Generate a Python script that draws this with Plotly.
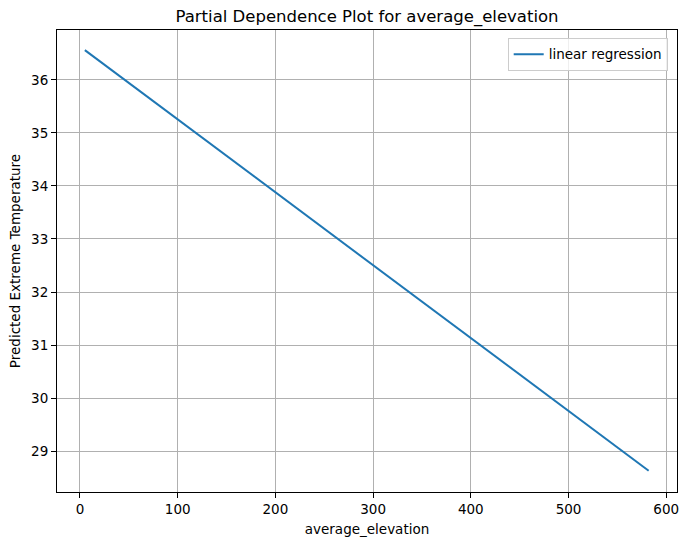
import plotly.graph_objects as go

elevation = [5, 582]
predicted_temp = [36.56, 28.63]
series_name = "linear regression"
x_ticks = [0, 100, 200, 300, 400, 500, 600]
y_ticks = [29, 30, 31, 32, 33, 34, 35, 36]

fig = go.Figure()
fig.add_trace(go.Scatter(x=elevation, y=predicted_temp, mode="lines", name=series_name,
                         line=dict(color="#1f77b4", width=2)))

font = dict(family="DejaVu Sans", size=13.5, color="black")
axis_common = dict(showline=True, linecolor="black", linewidth=1.1, mirror=True,
                   showgrid=True, gridcolor="#b0b0b0", gridwidth=1.1,
                   ticks="outside", ticklen=5, tickwidth=1.1, tickcolor="black",
                   zeroline=False, tickfont=font, automargin=False)

fig.update_layout(
    width=689, height=545,
    margin=dict(l=57, r=12, t=30, b=53, autoexpand=False),
    paper_bgcolor="white", plot_bgcolor="white",
    font=font,
    title=dict(text="Partial Dependence Plot for average_elevation", x=(57 + 677) / 2 / 689,
               xanchor="center", y=1 - 16 / 545, yanchor="middle", automargin=False,
               font=dict(family="DejaVu Sans", size=16.5, color="black")),
    showlegend=True,
    legend=dict(x=0.985, y=0.983, xanchor="right", yanchor="top",
                bgcolor="rgba(255,255,255,0.8)", bordercolor="#cccccc", borderwidth=1,
                font=dict(family="DejaVu Sans", size=13.5, color="black")),
    xaxis=dict(axis_common, range=[-23.5, 611], tickvals=x_ticks,
               title=dict(text="average_elevation", font=font, standoff=8)),
    yaxis=dict(axis_common, range=[28.23, 36.94], tickvals=y_ticks,
               title=dict(text="Predicted Extreme Temperature", font=font, standoff=7)),
)

fig.write_html("out.html", config={"displayModeBar": False},
               post_script="document.body.style.margin='0';")
